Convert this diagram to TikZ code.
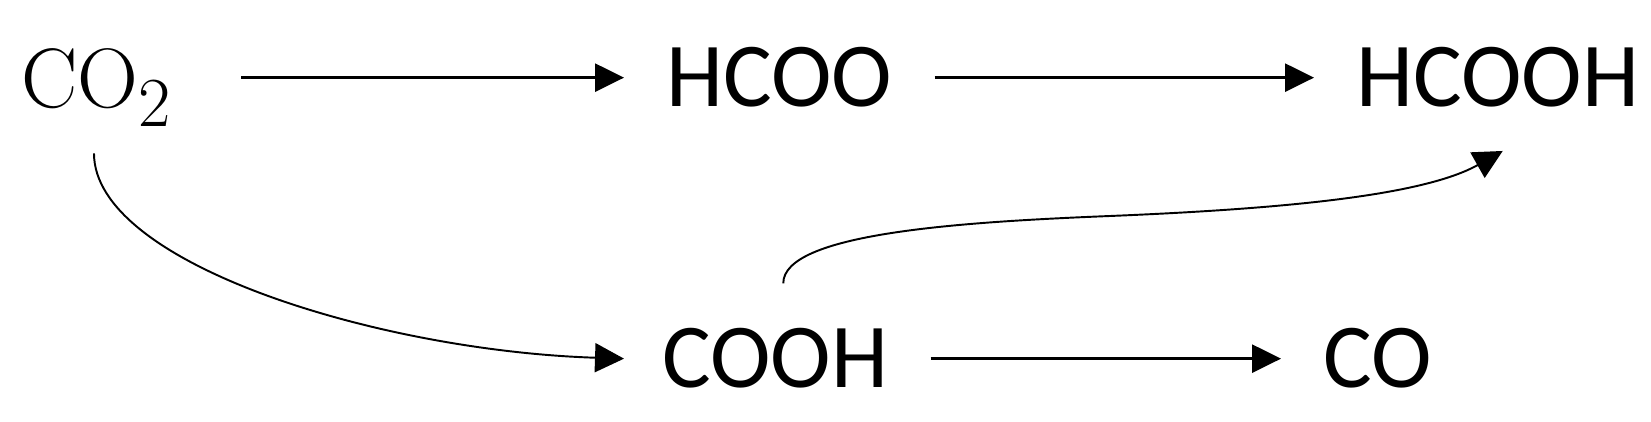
\documentclass[tikz,border=0pt]{standalone}
\usepackage{fontspec}
\newfontfamily\calibri{Carlito}
\usetikzlibrary{arrows.meta}
\tikzset{
  species/.style={inner sep=0pt, anchor=base west, font=\calibri\fontsize{52}{62}\selectfont},
  rxn/.style={line width=1.7pt, -{Triangle[length=0.58cm,width=0.56cm]}, shorten <=0.84cm, shorten >=0.84cm},
  bypass/.style={line width=1.1pt, -{Triangle[length=0.58cm,width=0.58cm]}},
}
\begin{document}
\begin{tikzpicture}[x=0.02cm,y=-0.02cm]
		\useasboundingbox (0,0) rectangle (1651,422);
		% top row
		\node[species, font=\rmfamily\fontsize{48}{58}\selectfont] (co2) at (21,108) {CO\raisebox{-0.38cm}{\fontsize{40}{48}\selectfont 2}};
		\node[species] (hcoo) at (666,107) {HCOO};
		\node[species] (hcooh) at (1356,107) {HCOOH};
		% bottom row
		\node[species] (cooh) at (662,388) {COOH};
		\node[species] (co) at (1323,388) {CO};
		\coordinate (bend) at (1110,216);
		% straight steps
		\draw[rxn, shorten <=1.4cm] (co2.east |- hcoo.west) -- (hcoo.west);
		\draw[rxn] (hcoo) -- (hcooh);
		\draw[rxn] (cooh) -- (co);
		% curved steps
		\draw[bypass] ([xshift=1.46cm,yshift=-0.52cm]co2.south west) .. controls +(0,110) and +(-246,-8) .. ([xshift=-0.76cm]cooh.west);
		\draw[bypass] ([xshift=0.16cm,yshift=0.9cm]cooh.north) .. controls +(0,-50) and +(-150,6) .. (bend)
			.. controls +(170,-7) and +(-80,45) .. ([xshift=0.1cm,yshift=-0.86cm]hcooh.south);
	\end{tikzpicture}
\end{document}
